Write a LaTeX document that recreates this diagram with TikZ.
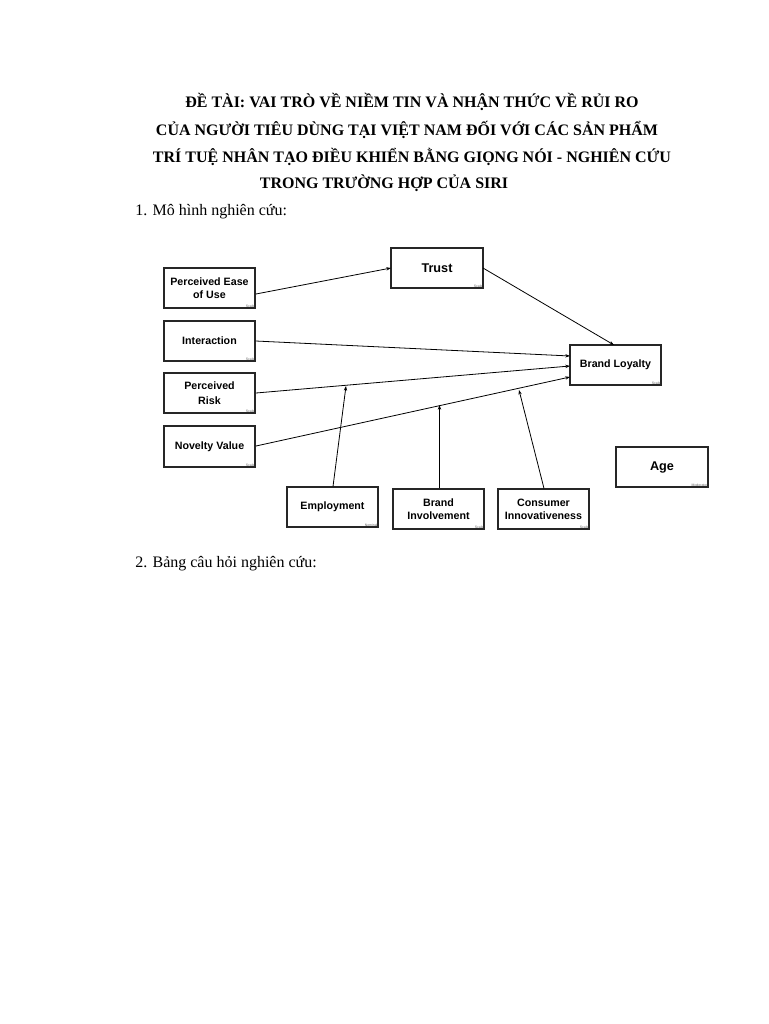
\documentclass[tikz,border=0pt]{standalone}
\usepackage{fontspec}
\setmainfont{Liberation Serif}
\newfontfamily\boxfont{Liberation Sans}
\usetikzlibrary{arrows.meta}
\begin{document}
\begin{tikzpicture}[x=0.75pt,y=-0.75pt,
  var/.style={draw=black!85,line width=0.8pt,rectangle,inner sep=0pt,font=\boxfont\bfseries\fontsize{8}{9.5}\selectfont,align=center},
  tag/.style={font=\boxfont\fontsize{2.6}{3}\selectfont,text=black!60,anchor=south east,inner sep=0.6pt},
  arr/.style={-{Stealth[length=3.5pt,width=2.5pt]},line width=0.6pt},
  ttl/.style={font=\bfseries\fontsize{12}{14}\selectfont,anchor=base}]
\useasboundingbox (0,0) rectangle (768,1024);
\fill[white] (0,0) rectangle (768,1024);
\node[ttl] (t1) at (412,108) {ĐỀ TÀI: VAI TRÒ VỀ NIỀM TIN VÀ NHẬN THỨC VỀ RỦI RO};
\node[ttl] (t2) at (407,135) {CỦA NGƯỜI TIÊU DÙNG TẠI VIỆT NAM ĐỐI VỚI CÁC SẢN PHẨM};
\node[ttl] (t3) at (412,162) {TRÍ TUỆ NHÂN TẠO ĐIỀU KHIỂN BẰNG GIỌNG NÓI - NGHIÊN CỨU};
\node[ttl] (t4) at (384,188) {TRONG TRƯỜNG HỢP CỦA SIRI};
\node[font=\fontsize{12}{14}\selectfont,anchor=base west,inner sep=0pt] (h1) at (135,215) {1. Mô hình nghiên cứu:};
\node[font=\fontsize{12}{14}\selectfont,anchor=base west,inner sep=0pt] (h2) at (135,567) {2. Bảng câu hỏi nghiên cứu:};

\newcommand\varbox[7]{% name, x1,y1,x2,y2, text, tag
  \node[var,minimum width={(#4-#2)*0.75pt},minimum height={(#5-#3)*0.75pt}] (#1) at ({(#2+#4)/2},{(#3+#5)/2}) {#6};
  \node[tag] at (#1.south east) {#7};}
\varbox{peu}{164}{268}{255}{308}{Perceived Ease\\of Use}{Scale}
\varbox{int}{164}{321}{255}{361}{Interaction}{Scale}
\varbox{risk}{164}{373}{255}{413}{Perceived\\[2pt]Risk}{Scale}
\varbox{nov}{164}{426}{255}{467}{Novelty Value}{Scale}
\varbox{trust}{391}{248}{483}{288}{\fontsize{9.5}{11}\selectfont Trust}{Scale}
\varbox{bl}{570}{345}{661}{385}{Brand Loyalty}{Scale}
\varbox{age}{616}{447}{708}{487}{\fontsize{9.5}{11}\selectfont Age}{Moderator}
\varbox{emp}{287}{487}{378}{527}{Employment}{Nominal}
\varbox{binv}{393}{489}{484}{529}{Brand\\Involvement}{Scale}
\varbox{cinn}{498}{489}{589}{529}{Consumer\\Innovativeness}{Scale}

\coordinate (pa) at (256,294); \coordinate (ta) at (391,268);
\draw[arr] (pa) -- (ta);
\coordinate (tb) at (483,268); \coordinate (bt) at (614,345);
\draw[arr] (tb) -- (bt);
\draw[arr] (int.east |- 0,341) -- (570,356);
\coordinate (rs) at (256,393); \coordinate (re) at (570,366);
\draw[arr] (rs) -- (re);
\coordinate (ns) at (256,446); \coordinate (ne) at (570,377);
\draw[arr] (ns) -- (ne);
\coordinate (e1) at (346,386);
\draw[arr] (emp.north -| 333,0) -- (e1);
\coordinate (b1) at (439.5,405);
\draw[arr] (binv.north -| 439.5,0) -- (b1);
\coordinate (c1) at (519,390);
\draw[arr] (cinn.north -| 544,0) -- (c1);
\end{tikzpicture}
\end{document}
